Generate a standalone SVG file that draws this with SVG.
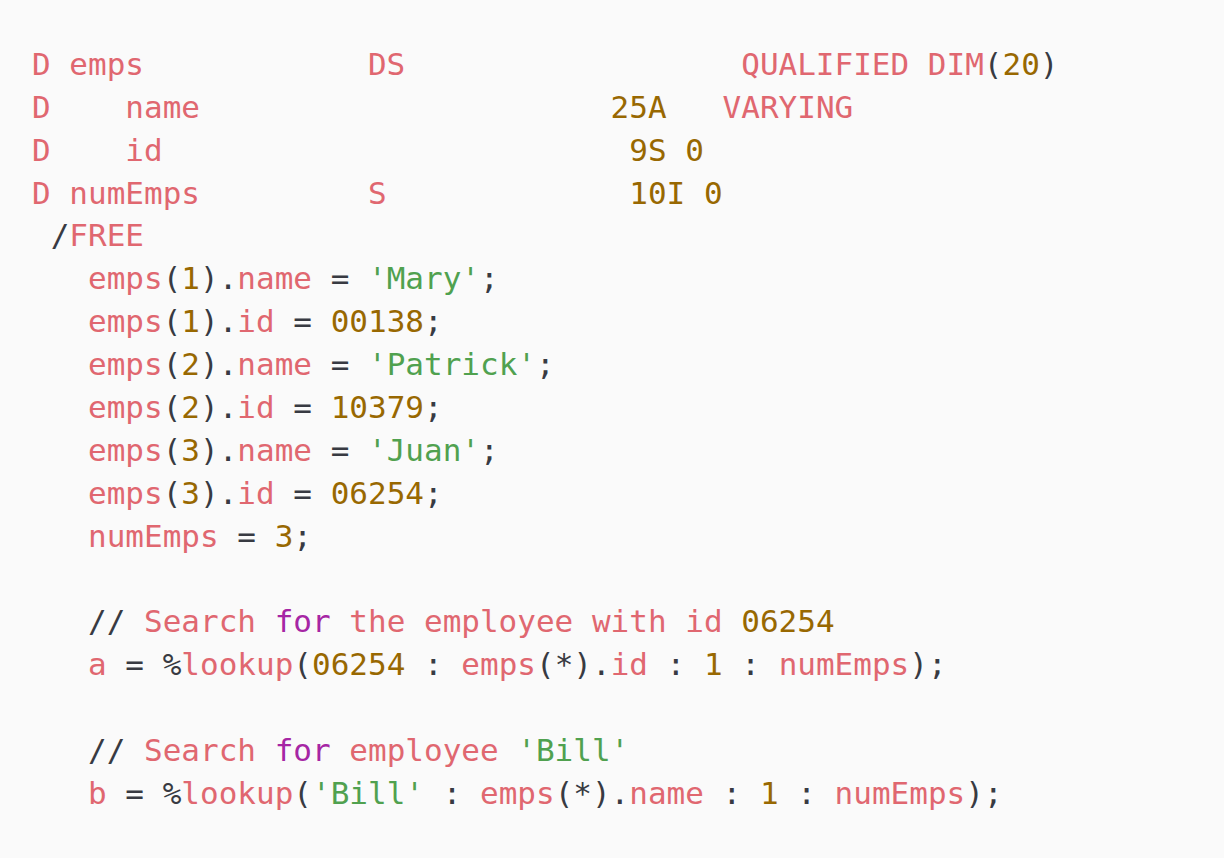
<svg xmlns="http://www.w3.org/2000/svg" width="1224" height="858" viewBox="0 0 1224 858">
<style>
text{font-family:"DejaVu Sans Mono",monospace;font-size:31px;fill:#383a42;white-space:pre}
.r{fill:#e45649;fill:#e06770}.b{fill:#986801}.g{fill:#50a14f}.p{fill:#a626a4}
</style>
<rect width="1224" height="858" fill="#fafafa"/>
<g id="code" xml:space="preserve">
<text x="32" y="75"><tspan class="r">D emps            DS                  QUALIFIED DIM</tspan>(<tspan class="b">20</tspan>)</text>
<text x="32" y="118"><tspan class="r">D    name                      </tspan><tspan class="b">25A</tspan>   <tspan class="r">VARYING</tspan></text>
<text x="32" y="161"><tspan class="r">D    id                         </tspan><tspan class="b">9S 0</tspan></text>
<text x="32" y="204"><tspan class="r">D numEmps         S             </tspan><tspan class="b">10I 0</tspan></text>
<text x="32" y="246"> /<tspan class="r">FREE</tspan></text>
<text x="32" y="289">   <tspan class="r">emps</tspan>(<tspan class="b">1</tspan>).<tspan class="r">name</tspan> = <tspan class="g">'Mary'</tspan>;</text>
<text x="32" y="332">   <tspan class="r">emps</tspan>(<tspan class="b">1</tspan>).<tspan class="r">id</tspan> = <tspan class="b">00138</tspan>;</text>
<text x="32" y="375">   <tspan class="r">emps</tspan>(<tspan class="b">2</tspan>).<tspan class="r">name</tspan> = <tspan class="g">'Patrick'</tspan>;</text>
<text x="32" y="418">   <tspan class="r">emps</tspan>(<tspan class="b">2</tspan>).<tspan class="r">id</tspan> = <tspan class="b">10379</tspan>;</text>
<text x="32" y="461">   <tspan class="r">emps</tspan>(<tspan class="b">3</tspan>).<tspan class="r">name</tspan> = <tspan class="g">'Juan'</tspan>;</text>
<text x="32" y="504">   <tspan class="r">emps</tspan>(<tspan class="b">3</tspan>).<tspan class="r">id</tspan> = <tspan class="b">06254</tspan>;</text>
<text x="32" y="547">   <tspan class="r">numEmps</tspan> = <tspan class="b">3</tspan>;</text>
<text x="32" y="632">   // <tspan class="r">Search</tspan> <tspan class="p">for</tspan> <tspan class="r">the employee with id</tspan> <tspan class="b">06254</tspan></text>
<text x="32" y="675">   <tspan class="r">a</tspan> = %<tspan class="r">lookup</tspan>(<tspan class="b">06254</tspan> : <tspan class="r">emps</tspan>(*).<tspan class="r">id</tspan> : <tspan class="b">1</tspan> : <tspan class="r">numEmps</tspan>);</text>
<text x="32" y="761">   // <tspan class="r">Search</tspan> <tspan class="p">for</tspan> <tspan class="r">employee</tspan> <tspan class="g">'Bill'</tspan></text>
<text x="32" y="804">   <tspan class="r">b</tspan> = %<tspan class="r">lookup</tspan>(<tspan class="g">'Bill'</tspan> : <tspan class="r">emps</tspan>(*).<tspan class="r">name</tspan> : <tspan class="b">1</tspan> : <tspan class="r">numEmps</tspan>);</text>
</g>
</svg>
